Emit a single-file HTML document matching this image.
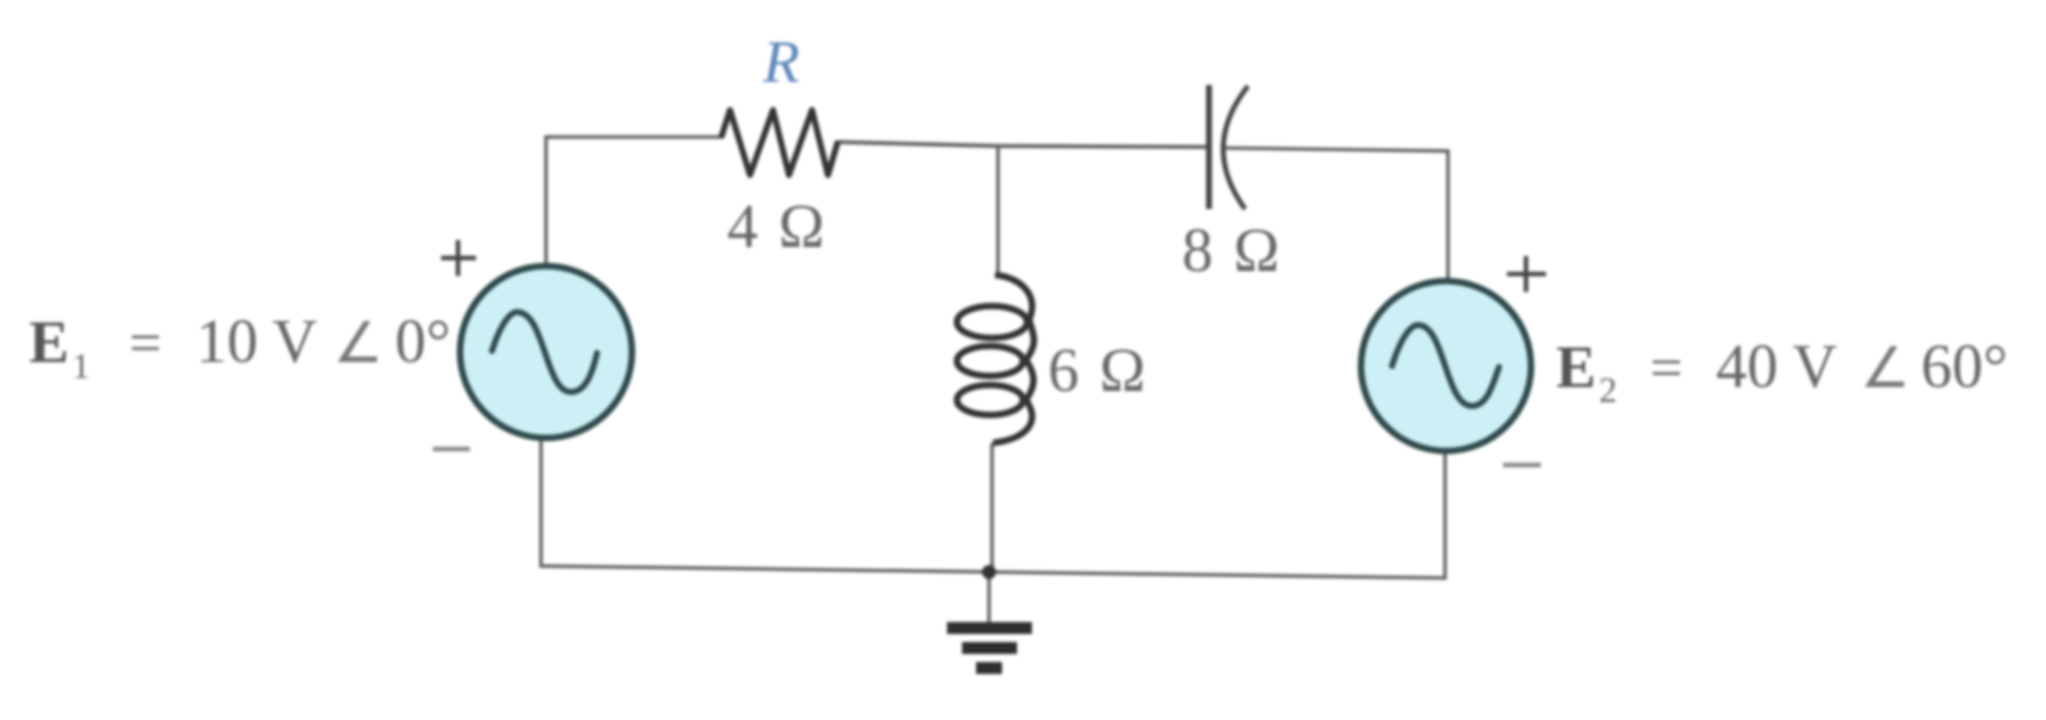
<!DOCTYPE html>
<html><head><meta charset="utf-8"><style>
html,body{margin:0;padding:0;background:#fff;width:2046px;height:720px;overflow:hidden}
svg{display:block;filter:blur(1.7px)}
text{font-family:"Liberation Serif",serif;fill:#666}
.a{font-family:"DejaVu Sans",sans-serif;fill:#777}
.o{letter-spacing:2.5px}
</style></head><body>
<svg width="2046" height="720" viewBox="0 0 2046 720" xmlns="http://www.w3.org/2000/svg">
<rect width="2046" height="720" fill="#fff"/>
<g fill="none" stroke="#5f5f5f" stroke-width="3.5">
<path d="M546 265V137H722"/>
<path d="M838 142L998 146L1209 147" stroke-width="4"/>
<path d="M1226 148L1448 151V280"/>
<path d="M998 146V275"/>
<path d="M541 438V566L1445 578V454"/>
<path d="M992 443V572M989 572V628"/>
</g>
<circle cx="989" cy="572" r="7" fill="#333"/>
<g fill="#2e2e2e"><rect x="947" y="622" width="85" height="12"/><rect x="962" y="642" width="55" height="12"/><rect x="976" y="662" width="26" height="12"/></g>
<path d="M721 138L730 110L750 175L773 110L789 175L812 110L828 175L838 141" fill="none" stroke="#333" stroke-width="6" stroke-linejoin="round"/>
<path d="M1209 85V209" stroke="#444" stroke-width="6" fill="none"/>
<path d="M1248 86Q1200 147 1245 209" stroke="#444" stroke-width="5" fill="none"/>
<g fill="none" stroke="#333" stroke-width="6.5">
<path d="M995 275C1020 277 1040 295 1029 320C1036 340 1036 345 1026 360C1036 375 1036 385 1026 400C1040 420 1030 438 993 443"/>
<ellipse cx="992" cy="322" rx="35" ry="16"/>
<ellipse cx="990" cy="361" rx="33" ry="15"/>
<ellipse cx="990" cy="400" rx="33" ry="15"/>
</g>
<g fill="#cdf0f6" stroke="#2f4a4c" stroke-width="6.5">
<circle cx="546" cy="352" r="86"/>
<circle cx="1446" cy="366" r="85"/>
</g>
<g fill="none" stroke="#2f4a4c" stroke-width="6" stroke-linecap="round">
<path d="M492 351C500 325 510 312 517 312C545 312 545 392 571 392C585 392 592 375 597 353"/>
<path d="M1392 366C1400 340 1410 325 1418 325C1445 325 1445 406 1472 406C1486 406 1492 388 1499 367"/>
</g>
<g stroke="#444" stroke-width="4.5" fill="none">
<path d="M441 258H476M458 240V276"/>
<path d="M1507 274H1546M1526 256V292"/>
<path d="M433 449H470" stroke="#888"/>
<path d="M1503 465H1541" stroke="#888"/>
</g>
<text x="763" y="82" font-size="60" font-style="italic" style="fill:#5b86b8">R</text>
<text class="o" x="727" y="247" font-size="62">4 Ω</text>
<text class="o" x="1182" y="271" font-size="62">8 Ω</text>
<text class="o" x="1048" y="391" font-size="62">6 Ω</text>
<text x="29" y="362" font-size="60" font-weight="bold" style="fill:#555">E</text>
<text x="72" y="378" font-size="36">1</text>
<text x="129" y="362" font-size="58">=</text>
<text x="196" y="362" font-size="62">10 V</text>
<text class="a" x="333" y="362" font-size="56">∠</text>
<text x="395" y="362" font-size="62">0°</text>
<text x="1556" y="387" font-size="60" font-weight="bold" style="fill:#555">E</text>
<text x="1599" y="402" font-size="36">2</text>
<text x="1650" y="387" font-size="58">=</text>
<text x="1716" y="387" font-size="62">40 V</text>
<text class="a" x="1860" y="387" font-size="56">∠</text>
<text x="1921" y="387" font-size="62">60°</text>
</svg>
</body></html>
